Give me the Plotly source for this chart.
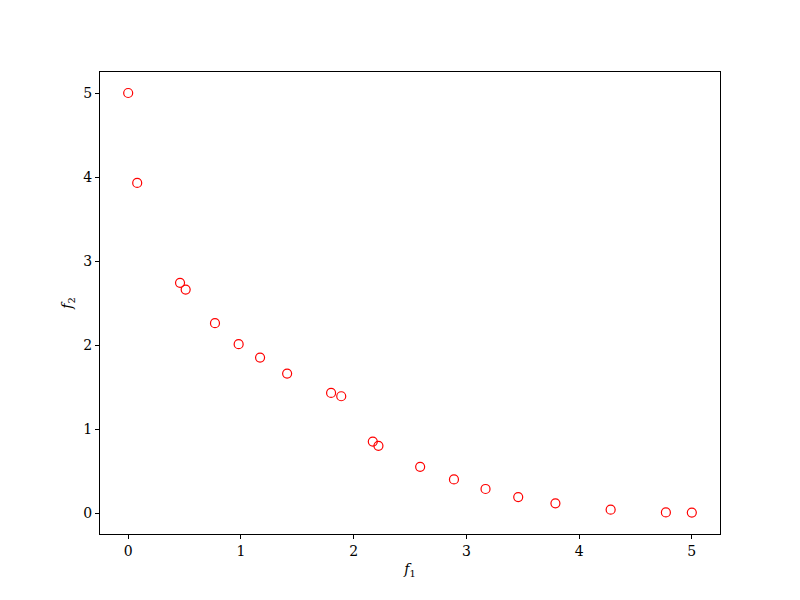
import plotly.graph_objects as go

f1 = [0.0, 0.08, 0.46, 0.51, 0.77, 0.98, 1.17, 1.41, 1.80, 1.89, 2.17, 2.22, 2.59, 2.89, 3.17, 3.46, 3.79, 4.28, 4.77, 5.0]
f2 = [5.0, 3.93, 2.74, 2.66, 2.26, 2.01, 1.85, 1.66, 1.43, 1.39, 0.85, 0.80, 0.55, 0.40, 0.286, 0.19, 0.115, 0.04, 0.007, 0.005]

fig = go.Figure(go.Scatter(
    x=f1, y=f2, mode="markers",
    marker=dict(symbol="circle-open", size=9, color="red", line=dict(width=1.2, color="red")),
))

axis_common = dict(
    showgrid=False, zeroline=False, showline=True, linecolor="black", linewidth=1,
    mirror=True, ticks="outside", ticklen=4, tickwidth=1, tickcolor="black",
    tickfont=dict(family="DejaVu Serif", size=14, color="black"),
    range=[-0.25, 5.25], tickvals=[0, 1, 2, 3, 4, 5], automargin=False,
)

fig.update_layout(
    width=800, height=600,
    margin=dict(l=92, r=88, t=64, b=74),
    paper_bgcolor="white", plot_bgcolor="white",
    showlegend=False,
    font=dict(family="DejaVu Serif", size=14, color="black"),
    xaxis=dict(axis_common, title=dict(text="<i>f</i><sub>1</sub>", standoff=6,
                                        font=dict(family="DejaVu Serif", size=14))),
    yaxis=dict(axis_common, title=dict(text="<i>f</i><sub>2</sub>", standoff=7,
                                        font=dict(family="DejaVu Serif", size=14))),
)

fig.write_html("out.html")
